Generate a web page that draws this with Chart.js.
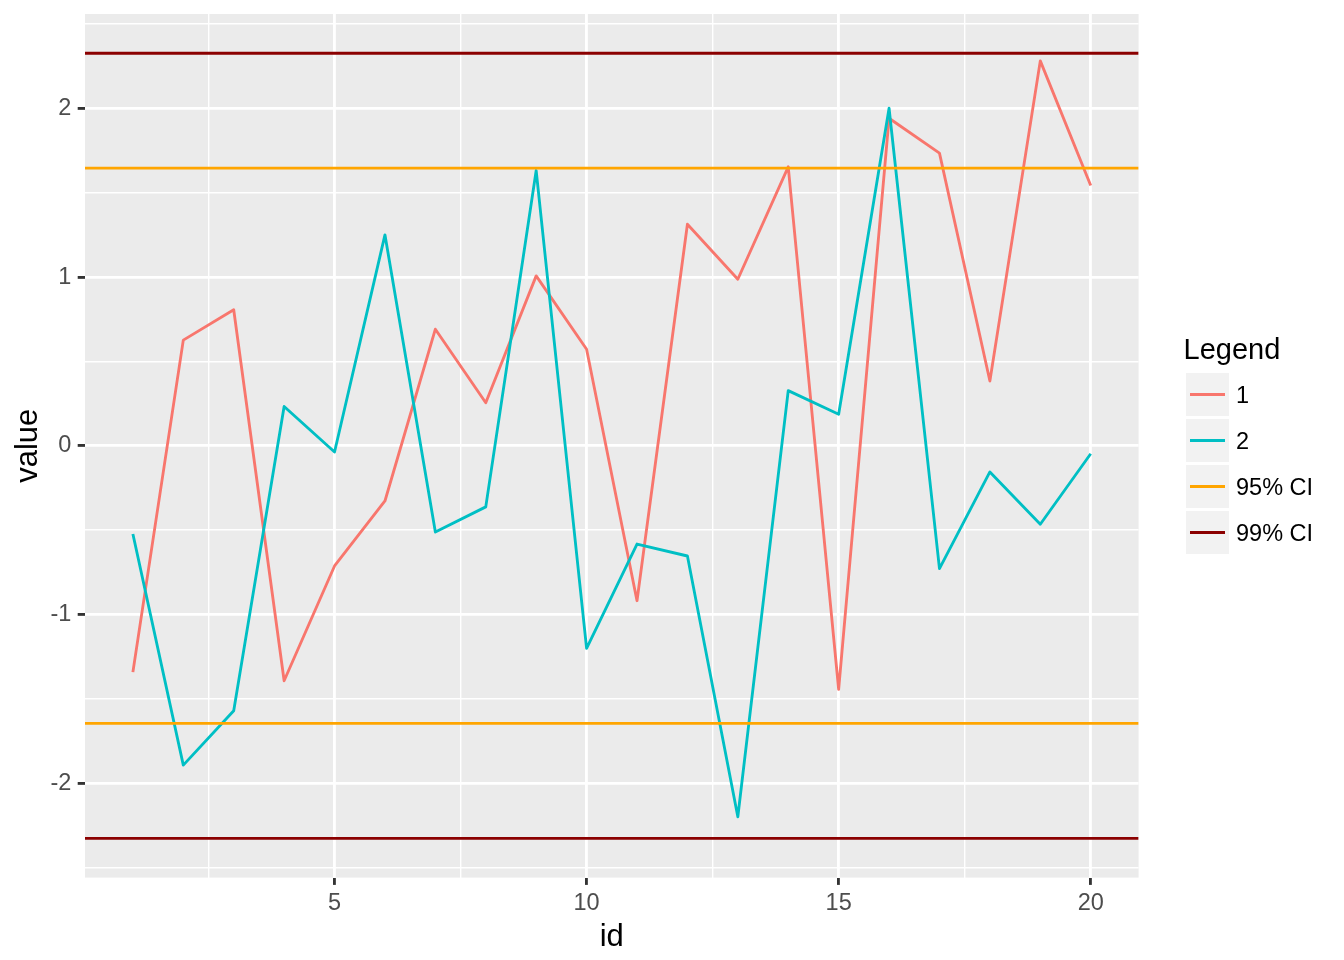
<!DOCTYPE html>
<html lang="en">
<head>
<meta charset="utf-8">
<title>value by id</title>
<script src="https://cdn.jsdelivr.net/npm/chart.js@4.4.1/dist/chart.umd.min.js"></script>
<style>
  html, body { margin: 0; padding: 0; background: #ffffff; }
  #wrap {
    position: relative;
    width: 1344px;
    height: 960px;
    font-family: 'Liberation Sans', Arial, sans-serif;
  }
  #chart { position: absolute; left: 0; top: 0; }
  .legend-title {
    position: absolute;
    left: 1183.5px;
    top: 334.8px;
    font-size: 29px;
    line-height: 29px;
    color: #000;
    white-space: nowrap;
  }
  .legend-item {
    position: absolute;
    left: 1186px;
    height: 43px;
    cursor: pointer;
    transition: opacity 150ms ease;
  }
  .legend-item .key {
    position: absolute;
    left: 0; top: 0;
    width: 43px; height: 43px;
    background: #F2F2F2;
  }
  .legend-item .swatch {
    position: absolute;
    left: 4.3px; top: 20px;
    width: 34.4px; height: 3px;
  }
  .legend-item .label {
    position: absolute;
    left: 50px; top: 1px;
    font-size: 23.5px;
    line-height: 43px;
    color: #000;
    white-space: nowrap;
  }
</style>
</head>
<body>
<div id="wrap">
  <canvas id="chart" width="1344" height="960"></canvas>
  <div id="legend"><div class="legend-title">Legend</div></div>
</div>
<script>
// ---- données ----
const ids = [1, 2, 3, 4, 5, 6, 7, 8, 9, 10, 11, 12, 13, 14, 15, 16, 17, 18, 19, 20];
const series1 = [-1.341, 0.626, 0.806, -1.392, -0.712, -0.327, 0.691, 0.255, 1.007, 0.572,
                 -0.918, 1.313, 0.987, 1.653, -1.443, 1.941, 1.734, 0.384, 2.281, 1.542];
const series2 = [-0.523, -1.892, -1.570, 0.233, -0.037, 1.250, -0.511, -0.362, 1.631, -1.200,
                 -0.582, -0.653, -2.198, 0.327, 0.187, 2.000, -0.728, -0.155, -0.465, -0.047];
const seriesLabels = ['1', '2'];
const ciLabels = ['95% CI', '99% CI'];
const ciValues = [1.645, 2.326];

const xTicks = [5, 10, 15, 20];
const xMinorTicks = [2.5, 7.5, 12.5, 17.5];
const yTicks = [-2, -1, 0, 1, 2];
const yMinorTicks = [-2.5, -1.5, -0.5, 0.5, 1.5, 2.5];

// ---- couleurs / style ----
const COLORS = ['#F8766D', '#00BFC4', '#FFA500', '#8B0000'];
const FONT = "'Liberation Sans', Arial, sans-serif";
const LINE_W = 2.85;

// limites façon ggplot : étendue des données + 5 %
function expand(values) {
  const lo = Math.min(...values), hi = Math.max(...values);
  const pad = (hi - lo) * 0.05;
  return [lo - pad, hi + pad];
}
const xLim = expand(ids);
const yLim = expand([...series1, ...series2, ...ciValues, ...ciValues.map(v => -v)]);

const toPoints = (vals) => vals.map((v, i) => ({ x: ids[i], y: v }));
// ligne horizontale ±v sur toute la largeur du panneau (coupure par un point null)
const hline = (v) => [
  { x: xLim[0], y: v }, { x: xLim[1], y: v },
  { x: xLim[1], y: null },
  { x: xLim[0], y: -v }, { x: xLim[1], y: -v }
];

const lineStyle = (color, order) => ({
  borderColor: color,
  backgroundColor: color,
  borderWidth: LINE_W,
  pointRadius: 0,
  pointHoverRadius: 0,
  tension: 0,
  borderJoinStyle: 'round',
  borderCapStyle: 'butt',
  fill: false,
  order: order
});

const datasets = [
  { label: seriesLabels[0], data: toPoints(series1), ...lineStyle(COLORS[0], 4) },
  { label: seriesLabels[1], data: toPoints(series2), ...lineStyle(COLORS[1], 3) },
  { label: ciLabels[0], data: hline(ciValues[0]), ...lineStyle(COLORS[2], 2) },
  { label: ciLabels[1], data: hline(ciValues[1]), ...lineStyle(COLORS[3], 1) }
];

const panelBg = {
  id: 'panelBg',
  beforeDraw(chart) {
    const { ctx, chartArea: a } = chart;
    ctx.save();
    ctx.fillStyle = '#EBEBEB';
    ctx.fillRect(a.left, a.top, a.right - a.left, a.bottom - a.top);
    ctx.restore();
  }
};

function axisConfig(major, minor, lim, opts) {
  const isMajor = (ctx) => major.includes(ctx.tick.value);
  return {
    type: 'linear',
    min: lim[0],
    max: lim[1],
    afterBuildTicks: (axis) => {
      axis.ticks = [...minor, ...major].sort((a, b) => a - b).map(v => ({ value: v }));
    },
    afterFit: opts.afterFit,
    border: { display: false },
    grid: {
      color: '#FFFFFF',
      lineWidth: (ctx) => isMajor(ctx) ? LINE_W : 1.42,
      drawTicks: true,
      tickLength: 7.3,
      tickColor: '#333333',
      tickWidth: (ctx) => isMajor(ctx) ? LINE_W : 0
    },
    ticks: {
      autoSkip: false,
      maxRotation: 0,
      padding: opts.tickPadding,
      color: '#4D4D4D',
      font: { family: FONT, size: 23.5 },
      callback: (v) => major.includes(v) ? String(v) : ''
    },
    title: {
      display: true,
      text: opts.title,
      color: '#000000',
      font: { family: FONT, size: 31 },
      padding: opts.titlePadding
    }
  };
}

const chart = new Chart(document.getElementById('chart'), {
  type: 'line',
  data: { datasets },
  plugins: [panelBg],
  options: {
    responsive: false,
    animation: false,
    parsing: true,
    layout: { padding: { left: 0, top: 14, right: 205.4, bottom: 0 } },
    plugins: {
      legend: { display: false },
      tooltip: { enabled: false }
    },
    scales: {
      x: axisConfig(xTicks, xMinorTicks, xLim, {
        title: 'id',
        tickPadding: 4.8,
        titlePadding: { top: 0, bottom: 3.6 },
        afterFit: (axis) => { axis.height = 82.4; axis.paddingLeft = 0; axis.paddingRight = 0; }
      }),
      y: axisConfig(yTicks, yMinorTicks, yLim, {
        title: 'value',
        tickPadding: 6.3,
        titlePadding: { top: 9.5, bottom: 0 },
        afterFit: (axis) => { axis.width = 85; axis.paddingTop = 0; axis.paddingBottom = 0; }
      })
    }
  }
});

// ---- légende HTML ----
function buildLegend(chart) {
  const box = document.getElementById('legend');
  chart.data.datasets.forEach((ds, i) => {
    const item = document.createElement('div');
    item.className = 'legend-item';
    item.style.top = (372.5 + i * 46.2) + 'px';
    item.innerHTML =
      '<span class="key"><span class="swatch" style="background:' + ds.borderColor + '"></span></span>' +
      '<span class="label">' + ds.label + '</span>';
    item.addEventListener('click', () => {
      const visible = chart.isDatasetVisible(i);
      chart.setDatasetVisibility(i, !visible);
      item.style.opacity = visible ? '0.4' : '1';
      chart.update();
    });
    box.appendChild(item);
  });
}
buildLegend(chart);
</script>
</body>
</html>
